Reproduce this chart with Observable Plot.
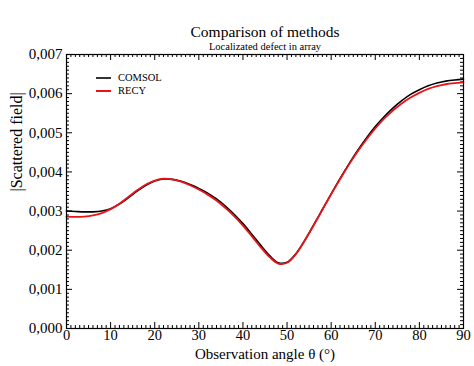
<!DOCTYPE html>
<html>
<head>
<meta charset="utf-8">
<script src="https://cdn.jsdelivr.net/npm/d3@7"></script>
<script src="https://cdn.jsdelivr.net/npm/@observablehq/plot@0.6"></script>
<style>
  html, body { margin: 0; padding: 0; background: #fff; }
  #wrap { position: relative; width: 474px; height: 366px; }
  #legend { position: absolute; left: 96px; top: 71px; font-family: "Liberation Serif", serif; font-size: 10.5px; color: #000; line-height: 13px; }
  #legend div { display: flex; align-items: center; height: 13px; }
  #legend svg { margin-right: 7px; }
</style>
</head>
<body>
<div id="wrap">
  <div id="legend">
    <div><svg width="15" height="4"><line x1="0" x2="15" y1="2" y2="2" stroke="#000" stroke-width="1.6"/></svg>COMSOL</div>
    <div><svg width="15" height="4"><line x1="0" x2="15" y1="2" y2="2" stroke="#e8141a" stroke-width="2"/></svg>RECY</div>
  </div>
</div>
<script>
const angles = [0,2,4,6,8,10,12,14,16,18,20,22,24,26,28,30,32,34,36,38,40,42,44,46,48,50,52,54,56,58,60,62,64,66,68,70,72,74,76,78,80,82,84,86,88,90];
const comsol = [0.00300,0.00299,0.00298,0.00298,0.00300,0.00306,0.00318,0.00334,0.00351,0.00366,0.00377,0.00382,0.00381,0.00376,0.00368,0.00358,0.00346,0.00331,0.00313,0.00292,0.00268,0.00241,0.00213,0.00187,0.00168,0.00169,0.00191,0.00225,0.00264,0.00304,0.00344,0.00383,0.00420,0.00455,0.00487,0.00516,0.00541,0.00563,0.00582,0.00598,0.00610,0.00620,0.00627,0.00632,0.00635,0.00637];
const recy = [0.00286,0.00285,0.00286,0.00289,0.00295,0.00305,0.00319,0.00336,0.00353,0.00368,0.00378,0.00383,0.00381,0.00375,0.00366,0.00355,0.00342,0.00327,0.00308,0.00287,0.00263,0.00236,0.00208,0.00183,0.00166,0.00168,0.00190,0.00224,0.00263,0.00303,0.00343,0.00381,0.00418,0.00452,0.00483,0.00511,0.00536,0.00557,0.00575,0.00590,0.00602,0.00612,0.00619,0.00624,0.00627,0.00629];
const seriesNames = ["COMSOL", "RECY"];
const xTicks = [0,10,20,30,40,50,60,70,80,90];
const yTicks = [0,0.001,0.002,0.003,0.004,0.005,0.006,0.007];
const xMinor = d3.range(0, 91, 1).filter(v => v % 10 !== 0);
const yMinor = d3.range(0, 71).map(i => i / 10000).filter((v, i) => i % 10 !== 0);
const title = "Comparison of methods";
const subtitle = "Localizated defect in array";
const xLabel = "Observation angle θ (°)";
const yLabel = "|Scattered field|";

const W = 474, H = 366, ml = 66, mr = 11, mt = 54, mb = 38;
const iw = W - ml - mr, ih = H - mt - mb;
const rowsC = angles.map((a, i) => ({a, v: comsol[i]}));
const rowsR = angles.map((a, i) => ({a, v: recy[i]}));
const fmt = d => d.toFixed(3).replace(".", ",");

const chart = Plot.plot({
  width: W, height: H,
  marginLeft: ml, marginRight: mr, marginTop: mt, marginBottom: mb,
  style: {fontFamily: "'Liberation Serif', serif", background: "#fff", color: "#000"},
  x: {domain: [0, 90]},
  y: {domain: [0, 0.007]},
  marks: [
    Plot.axisX({ticks: xTicks, tickSize: 0, tickPadding: 1, fontSize: 14.5, label: null}),
    Plot.axisY({ticks: yTicks, tickSize: 0, tickPadding: 4, fontSize: 15, label: null, tickFormat: fmt}),
    // inward ticks, bottom/top
    Plot.tickX(xTicks, {x: d => d, insetTop: ih - 6, stroke: "#000"}),
    Plot.tickX(xTicks, {x: d => d, insetBottom: ih - 6, stroke: "#000"}),
    Plot.tickX(xMinor, {x: d => d, insetTop: ih - 3, stroke: "#000"}),
    Plot.tickX(xMinor, {x: d => d, insetBottom: ih - 3, stroke: "#000"}),
    // inward ticks, left/right
    Plot.tickY(yTicks, {y: d => d, insetRight: iw - 6, stroke: "#000"}),
    Plot.tickY(yTicks, {y: d => d, insetLeft: iw - 6, stroke: "#000"}),
    Plot.tickY(yMinor, {y: d => d, insetRight: iw - 3, stroke: "#000"}),
    Plot.tickY(yMinor, {y: d => d, insetLeft: iw - 3, stroke: "#000"}),
    Plot.line(rowsC, {x: "a", y: "v", stroke: "#000", strokeWidth: 1.6, curve: "catmull-rom"}),
    Plot.line(rowsR, {x: "a", y: "v", stroke: "#e8141a", strokeWidth: 1.8, curve: "catmull-rom"}),
    Plot.frame({stroke: "#000", strokeWidth: 1.2}),
    Plot.text([title], {text: d => d, frameAnchor: "top", dy: -29, fontSize: 15.5}),
    Plot.text([subtitle], {text: d => d, frameAnchor: "top", dy: -12, fontSize: 10.5}),
    Plot.text([xLabel], {text: d => d, frameAnchor: "bottom", dy: 30, fontSize: 15}),
    Plot.text([yLabel], {text: d => d, frameAnchor: "left", dx: -50, rotate: -90, fontSize: 16})
  ]
});
document.getElementById("wrap").prepend(chart);
chart.style.position = "absolute";
chart.style.left = "0";
chart.style.top = "0";
</script>
</body>
</html>
